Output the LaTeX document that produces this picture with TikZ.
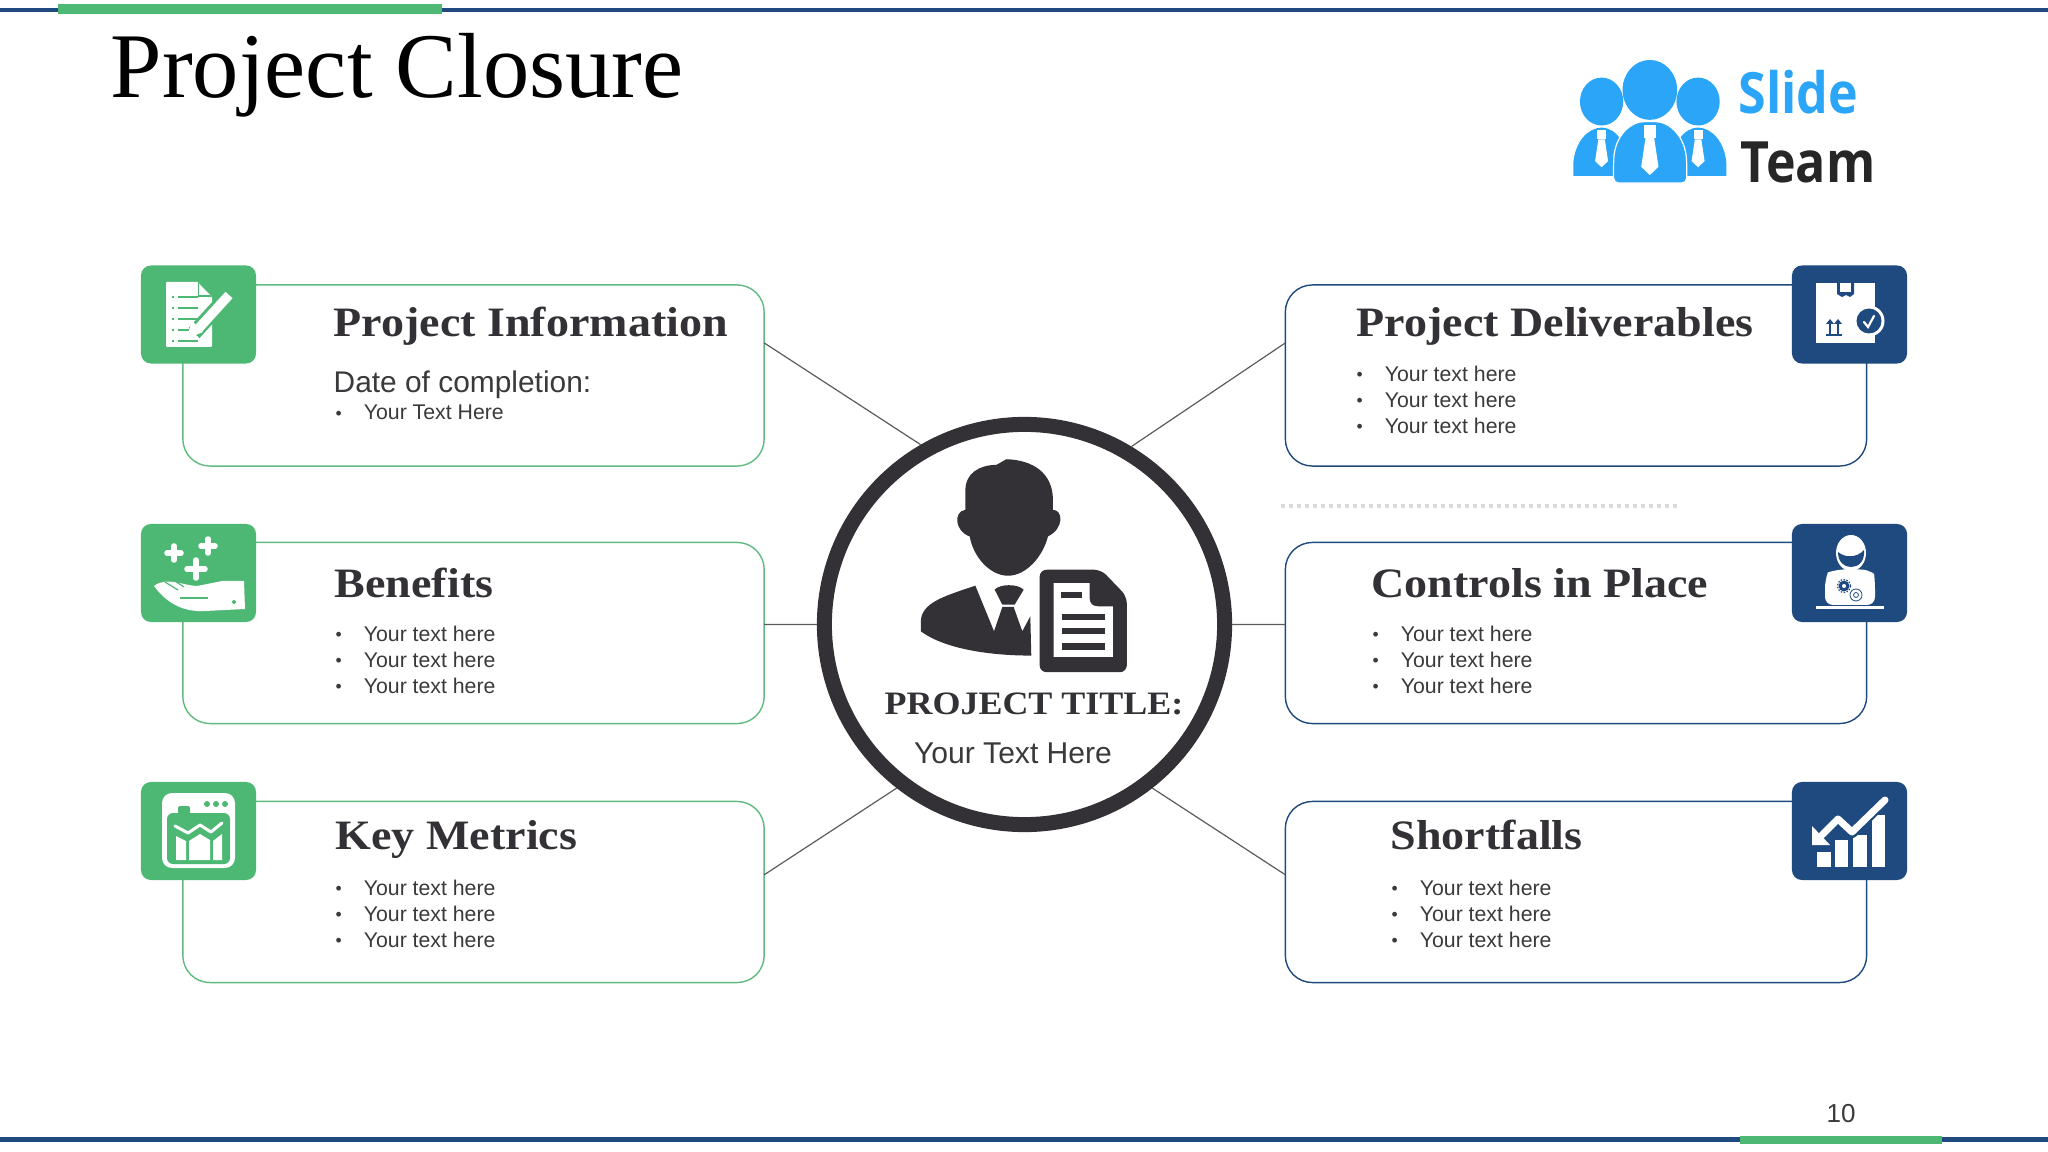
\documentclass[tikz,border=0pt]{standalone}
\usepackage{fontspec}
\usetikzlibrary{calc}
\setmainfont{Liberation Sans}
\newfontfamily\serifhead[FakeStretch=1.1]{Liberation Serif}
\newfontfamily\titlefam{Liberation Serif}
\newfontfamily\logofam[FakeStretch=0.88]{Open Sans}
\definecolor{gr}{HTML}{4DB873}
\definecolor{grline}{HTML}{5FBB80}
\definecolor{nv}{HTML}{1F4A80}
\definecolor{ink}{HTML}{333135}
\definecolor{txt}{HTML}{3A3A3C}
\definecolor{logob}{HTML}{2AA5F7}
\newcommand{\bitem}[1]{\makebox[8pt][l]{\fontsize{5}{5}\selectfont\raisebox{0.2pt}{•}}#1}
\newcommand{\threeitems}{\bitem{Your text here}\\\bitem{Your text here}\\\bitem{Your text here}}
\tikzset{
 x=0.01cm,y=-0.01cm,
 cardbox/.style={draw,fill=white,rounded corners=0.27cm,minimum width=5.81cm,minimum height=1.81cm,inner sep=0,outer sep=0,line width=0.014cm},
 gcard/.style={cardbox,draw=grline},
 ncard/.style={cardbox,draw=nv},
 iconbox/.style={rounded corners=0.1cm,minimum width=1.15cm,minimum height=0.98cm,inner sep=0,outer sep=0},
 gicon/.style={iconbox,fill=gr},
 nicon/.style={iconbox,fill=nv},
 head/.style={anchor=base west,inner sep=0,text=ink,font=\serifhead\bfseries\fontsize{11.9}{14}\selectfont},
 bodytxt/.style={anchor=base west,inner sep=0,align=left,text=txt,font=\fontsize{6.05}{7.37}\selectfont},
 link/.style={draw=ink!80,line width=0.012cm},
 zoomed/.style={x=0.003333cm,y=-0.003333cm},
}
\begin{document}
\begin{tikzpicture}
\useasboundingbox (0,0) rectangle (2048,1152);
% frame lines
\fill[nv] (0,8) rectangle (2048,12);
\fill[gr] (58,4) rectangle (442,14);
\fill[nv] (0,1137) rectangle (2048,1142);
\fill[gr] (1740,1136) rectangle (1942,1144);
\node[anchor=base west,inner sep=0,text=black,font=\titlefam\fontsize{26.3}{30}\selectfont] (title) at (110,98) {Project Closure};
\node[anchor=base,inner sep=0,text=txt,font=\fontsize{7.4}{9}\selectfont] (pageno) at (1841,1122) {10};

% hub
\node[circle,draw=ink,fill=white,line width=0.15cm,minimum size=4cm,inner sep=0] (hub) at (1024.5,624.5) {};

% cards
\node[gcard] (card1) at (473.5,375.5) {};
\node[gcard] (card2) at (473.5,633) {};
\node[gcard] (card3) at (473.5,892) {};
\node[ncard] (card4) at (1576,375.5) {};
\node[ncard] (card5) at (1576,633) {};
\node[ncard] (card6) at (1576,892) {};

% connectors
\coordinate (e1) at ($(card1.north east)!0.32!(card1.south east)$);
\coordinate (e2) at ($(card2.north east)!0.453!(card2.south east)$);
\coordinate (e3) at ($(card3.north east)!0.405!(card3.south east)$);
\coordinate (e4) at ($(card4.north west)!0.32!(card4.south west)$);
\coordinate (e5) at ($(card5.north west)!0.453!(card5.south west)$);
\coordinate (e6) at ($(card6.north west)!0.405!(card6.south west)$);
\draw[link] (e1) -- (hub.120.7);
\draw[link] (e2) -- (hub.180);
\draw[link] (e3) -- (hub.232);
\draw[link] (e4) -- (hub.59);
\draw[link] (e5) -- (hub.0);
\draw[link] (e6) -- (hub.308);

% icon tiles
\node[gicon] (icon1) at (198.5,314.5) {};
\node[gicon] (icon2) at (198.5,573) {};
\node[gicon] (icon3) at (198.5,831) {};
\node[nicon] (icon4) at (1849.5,314.5) {};
\node[nicon] (icon5) at (1849.5,573) {};
\node[nicon] (icon6) at (1849.5,831) {};

% card texts
\node[head] (h1) at (333,337) {Project Information};
\node[anchor=base west,inner sep=0,text=txt,font=\fontsize{8.5}{10}\selectfont] (d1) at (333,393) {Date of completion:};
\node[bodytxt] (b1) at (335,420) {\bitem{Your Text Here}};
\node[head] (h2) at (334,597) {Benefits};
\node[bodytxt] (b2) at (335,693.5) {\threeitems};
\node[head] (h3) at (335,849) {Key Metrics};
\node[bodytxt] (b3) at (335,947.5) {\threeitems};
\node[head] (h4) at (1356,337) {Project Deliverables};
\node[bodytxt] (b4) at (1356,433.5) {\threeitems};
\node[head] (h5) at (1371,597) {Controls in Place};
\node[bodytxt] (b5) at (1372,693.5) {\threeitems};
\node[head] (h6) at (1390,849) {Shortfalls};
\node[bodytxt] (b6) at (1391,947.5) {\threeitems};

% dotted rule
\draw[gray!30,line width=0.04cm,dash pattern=on 0.035cm off 0.045cm] (1281,506) -- (1680,506);

% hub text
\node[anchor=base,inner sep=0,text=ink,font=\serifhead\bfseries\fontsize{9.3}{11}\selectfont] (ptitle) at (1034,714) {PROJECT TITLE:};
\node[anchor=base,inner sep=0,text=txt,font=\fontsize{8.55}{10}\selectfont] (ptext) at (1013,763) {Your Text Here};

% hub pictogram
\begin{scope}[shift={(800,400)},zoomed]
\fill[ink] (620,178) .. controls (700,180) and (760,220) .. (760,300) -- (760,330)
  .. controls (790,330) and (795,385) .. (745,410)
  .. controls (730,470) and (680,528) .. (625,528)
  .. controls (570,528) and (520,470) .. (510,410)
  .. controls (465,395) and (460,335) .. (497,330) -- (497,270)
  .. controls (497,220) and (540,195) .. (590,195) -- cycle;
\fill[ink] (363,665) .. controls (365,610) and (430,590) .. (527,558) -- (583,695) -- (608,622) -- (642,622) -- (668,695) -- (692,650) -- (695,768)
  .. controls (560,768) and (430,745) .. (363,695) -- cycle;
\fill[ink] (585,570) .. controls (600,552) and (655,552) .. (672,570) -- (645,615) -- (608,615) -- cycle;
\fill[ink,rounded corners=0.07cm] (720,510) -- (905,510) -- (982,590) -- (982,818) -- (720,818) -- cycle;
\fill[white] (762,550) -- (870,550) -- (870,595) .. controls (870,612) and (880,620) .. (895,620) -- (940,620) -- (940,772) -- (762,772) -- cycle;
\fill[ink] (783,576) rectangle (848,594);
\fill[ink] (787,643) rectangle (915,661);
\fill[ink] (787,686) rectangle (915,704);
\fill[ink] (787,730) rectangle (915,750);
\end{scope}

% icon 1: notepad and pencil
\fill[white,rounded corners=0.01cm] (166,282) -- (198,282) -- (212,297) -- (212,347) -- (166,347) -- cycle;
\fill[gr] (198,282) -- (198,297) -- (212,297) -- cycle;
\fill[white] (199,284) -- (199,295) -- (210,295) -- cycle;
\foreach \yy in {297,308,319,330,341}{
  \fill[gr] (172,\yy-1) rectangle (174,\yy+1);
  \draw[gr,line width=0.02cm] (178,\yy) -- (198,\yy);
}
\draw[gr,line width=0.15cm] (228,296) -- (194,333);
\draw[white,line width=0.095cm] (229,295) -- (199,328);
\fill[white] (203,332) -- (192,321) -- (186,339) -- cycle;

% icon 2: hand and sparkles
\fill[white] (154,586) .. controls (166,576) and (185,586) .. (197,586) -- (222,581) -- (244,581) -- (245,609) -- (205,611) .. controls (185,612) and (168,605) .. (154,586) -- cycle;
\draw[gr,line width=0.012cm] (165,582) -- (178,590);
\draw[gr,line width=0.012cm] (172,579) -- (184,587);
\draw[gr,line width=0.012cm] (180,598) -- (208,598);
\fill[gr] (234,602) circle (2);
\foreach \cx/\cy/\s in {174/553/7,208/546/7,196/569/9}{
  \draw[white,line width=0.055cm,line cap=round] (\cx-\s,\cy) -- (\cx+\s,\cy);
  \draw[white,line width=0.055cm,line cap=round] (\cx,\cy-\s) -- (\cx,\cy+\s);
}

% icon 3: dashboard
\fill[white,rounded corners=0.1cm] (162,793) rectangle (235,868);
\fill[gr,rounded corners=0.06cm] (167,813) rectangle (230,864);
\fill[gr,rounded corners=0.02cm] (178,806) rectangle (190,816);
\foreach \cx in {207,216,225}{\fill[gr] (\cx,804) circle (3);}
\draw[white,line width=0.03cm,line cap=round,line join=round] (175,826) -- (188,833) -- (200,825) -- (211,832) -- (222,823);
\fill[white] (176,836) -- (186,841) -- (186,860) -- (176,860) -- cycle;
\fill[white] (189,841) -- (200,834) -- (210,840) -- (210,860) -- (189,860) -- cycle;
\fill[white] (213,841) -- (222,834) -- (222,860) -- (213,860) -- cycle;

% icon 4: parcel
\fill[white] (1816,283) rectangle (1875,343);
\fill[nv] (1837,283) -- (1854,283) -- (1854,294) -- (1850,297) -- (1846,295) -- (1842,297) -- (1837,294) -- cycle;
\fill[white] (1840,283) rectangle (1851,292);
\fill[white] (1869,321) circle (15.5);
\fill[nv] (1869,321) circle (12.5);
\draw[white,line width=0.022cm,line cap=round] (1864,322) -- (1868,327) -- (1874,316);
\draw[nv,line width=0.016cm] (1826,335) -- (1842,335);
\draw[nv,line width=0.016cm] (1830,335) -- (1830,322);
\draw[nv,line width=0.016cm] (1838,335) -- (1838,322);
\fill[nv] (1826,324) -- (1830,319) -- (1834,324) -- cycle;
\fill[nv] (1834,324) -- (1838,319) -- (1842,324) -- cycle;

% icon 5: engineer at laptop
\fill[white] (1851,553) ellipse (15 and 18);
\fill[nv] (1838,552) .. controls (1845,558) and (1857,558) .. (1864,550) .. controls (1865,562) and (1858,567) .. (1851,567) .. controls (1844,567) and (1838,562) .. (1838,552) -- cycle;
\fill[white,rounded corners=0.08cm] (1825,605) -- (1825,580) .. controls (1828,572) and (1838,570) .. (1845,569) -- (1857,569) .. controls (1866,570) and (1874,573) .. (1875,582) -- (1875,605) -- cycle;
\fill[white] (1816,606) rectangle (1884,609);
\fill[nv] (1844,586) circle (5.5);
\draw[nv,line width=0.012cm,dash pattern=on 0.015cm off 0.015cm] (1844,586) circle (6.5);
\fill[white] (1844,586) circle (2);
\draw[nv,line width=0.008cm] (1856,595) circle (6);
\draw[nv,line width=0.008cm] (1856,595) circle (2.5);

% icon 6: chart
\fill[white] (1817,852) rectangle (1831,867);
\fill[white] (1835,840) rectangle (1848,867);
\fill[white] (1853,835) rectangle (1867,867);
\fill[white] (1872,815) rectangle (1885,867);
\draw[nv,line width=0.12cm,line join=round] (1884,800) -- (1852,832) -- (1838,819) -- (1821,837);
\draw[white,line width=0.07cm,line cap=round,line join=round] (1885,800) -- (1852,832) -- (1838,819) -- (1822,835);
\fill[white] (1812,826) -- (1812,845) -- (1830,845) -- cycle;

% logo
\begin{scope}[shift={(1540,30)},zoomed]
\fill[logob] (185,215) ellipse (65 and 72);
\fill[logob] (475,215) ellipse (65 and 72);
\fill[logob] (100,438) -- (100,400) .. controls (105,340) and (140,295) .. (185,293) .. controls (230,295) and (265,340) .. (270,438) -- cycle;
\fill[logob] (390,438) .. controls (395,340) and (430,295) .. (475,293) .. controls (520,295) and (555,340) .. (560,400) -- (560,438) -- cycle;
\fill[logob,draw=white,line width=0.012cm,rounded corners=0.05cm] (221,460) -- (221,400) .. controls (225,320) and (270,275) .. (330,275) .. controls (390,275) and (435,320) .. (441,400) -- (441,460) -- cycle;
\fill[logob] (330,180) ellipse (82 and 90);
\foreach \tx/\ty/\ts in {185/300/0.75,475/300/0.75,330/286/1}{
  \begin{scope}[shift={(\tx,\ty)},x=\ts*0.003333cm,y=-\ts*0.003333cm]
  \fill[white] (-18,0) rectangle (18,38);
  \fill[white] (-13,38) -- (13,38) -- (26,125) -- (0,150) -- (-26,125) -- cycle;
  \end{scope}
}
\end{scope}
\node[anchor=base west,inner sep=0,text=logob,font=\logofam\bfseries\fontsize{16.2}{18}\selectfont] (slide) at (1738,114) {Slide};
\node[anchor=base west,inner sep=0,text=black!85,font=\logofam\bfseries\fontsize{16.2}{18}\selectfont] (team) at (1740,183) {Team};
\end{tikzpicture}
\end{document}
